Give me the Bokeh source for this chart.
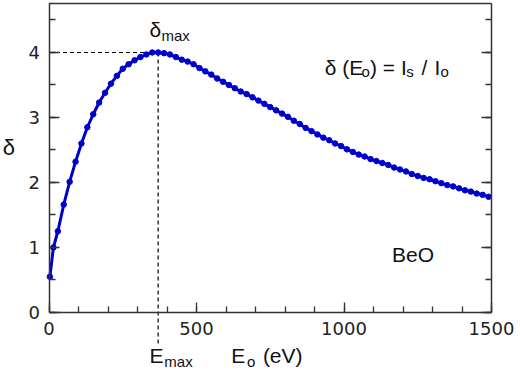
from bokeh.plotting import figure
from bokeh.models import Range1d, LinearAxis, Label, FixedTicker
from bokeh.embed import file_html
from bokeh.resources import INLINE

# ---- data ----
energy_eV = [3, 15, 30, 50, 70, 90, 110, 130, 150, 170, 190, 210, 230, 250, 270,
             290, 310, 330, 350, 370, 390, 410, 430, 450, 470, 490, 510, 530, 550,
             570, 590, 610, 630, 650, 670, 690, 710, 730, 750, 770, 790, 810, 830,
             850, 870, 890, 910, 930, 950, 970, 990, 1010, 1030, 1050, 1070, 1090,
             1110, 1130, 1150, 1170, 1190, 1210, 1230, 1250, 1270, 1290, 1310, 1330,
             1350, 1370, 1390, 1410, 1430, 1450, 1470, 1490]
delta = [0.55, 1.00, 1.25, 1.66, 2.01, 2.32, 2.60, 2.85, 3.05, 3.23, 3.38, 3.52,
         3.64, 3.75, 3.82, 3.88, 3.93, 3.97, 4.00, 4.00, 3.99, 3.97, 3.93, 3.89,
         3.86, 3.82, 3.76, 3.71, 3.66, 3.60, 3.55, 3.50, 3.45, 3.40, 3.36, 3.31,
         3.26, 3.21, 3.16, 3.11, 3.06, 3.01, 2.95, 2.90, 2.84, 2.79, 2.74, 2.69,
         2.65, 2.60, 2.56, 2.51, 2.47, 2.43, 2.40, 2.36, 2.33, 2.30, 2.27, 2.23,
         2.20, 2.17, 2.13, 2.10, 2.07, 2.05, 2.02, 1.99, 1.96, 1.94, 1.91, 1.88,
         1.86, 1.83, 1.81, 1.78]
E_max = 370
delta_max = 4.0
x_ticks = [0, 500, 1000, 1500]
y_ticks = [0, 1, 2, 3, 4]
X_MIN, X_MAX = 0, 1500
Y_MIN, Y_MAX = 0, 4.754

BLUE = "#0000cc"
AX = "#333333"
FONT = "Liberation Sans"
TICKFONT = "DejaVu Sans"
PX_PER_Y = 65.0

# the frame covers the whole canvas; axes are pinned at the data edges
p = figure(width=520, height=371, output_backend="svg", toolbar_location=None,
           x_range=Range1d(-164.41, 1598.3), y_range=Range1d(-0.9077, 4.8),
           x_axis_type=None, y_axis_type=None, min_border=0)
p.background_fill_color = "white"
p.border_fill_color = "white"
p.outline_line_color = None
p.xgrid.visible = False
p.ygrid.visible = False

def style_axis(ax, labels=True):
    ax.axis_line_color = AX
    ax.axis_line_width = 1.5
    ax.major_tick_line_color = AX
    ax.minor_tick_line_color = AX
    ax.major_tick_line_width = 1.3
    ax.minor_tick_line_width = 1.3
    ax.major_tick_in = 10
    ax.major_tick_out = 0
    ax.minor_tick_in = 6
    ax.minor_tick_out = 0
    ax.major_label_text_font = TICKFONT
    ax.major_label_text_font_size = "18px"
    ax.major_label_text_color = "#222222"
    if not labels:
        ax.major_label_text_font_size = "0px"
        ax.major_label_text_color = None

xt = FixedTicker(ticks=x_ticks, minor_ticks=list(range(0, 1501, 100)))
yt = FixedTicker(ticks=y_ticks, minor_ticks=[i * 0.5 for i in range(0, 10)])

xb = LinearAxis(ticker=xt, fixed_location=Y_MIN, bounds=(X_MIN, X_MAX))
style_axis(xb)
xb.major_label_standoff = 10
p.add_layout(xb, "below")

yl = LinearAxis(ticker=yt, fixed_location=X_MIN, bounds=(Y_MIN, Y_MAX))
style_axis(yl)
yl.major_label_standoff = 9
p.add_layout(yl, "left")

yr = LinearAxis(ticker=yt, fixed_location=X_MAX, bounds=(Y_MIN, Y_MAX))
style_axis(yr, labels=False)
p.add_layout(yr, "right")

# top edge of the plot box
p.line([X_MIN, X_MAX], [Y_MAX, Y_MAX], line_color=AX, line_width=1.5)

# dashed guide lines
p.line([X_MIN, E_max], [delta_max, delta_max], line_color="black",
       line_width=1.2, line_dash="4 3")
p.line([E_max, E_max], [delta_max, -0.48], line_color="black",
       line_width=1.2, line_dash="4 3")

# curve
p.line(energy_eV, delta, line_color=BLUE, line_width=3)
p.scatter(energy_eV, delta, size=5.5, fill_color=BLUE, line_color=BLUE)

def lab(x, y, text, size, align="left"):
    # raise so that the glyph baseline lands on y
    y_adj = y + 0.42 * size / PX_PER_Y
    p.add_layout(Label(x=x, y=y_adj, text=text, text_font=FONT,
                       text_font_size=f"{size}px", text_color="#111111",
                       text_align=align, text_baseline="alphabetic"))

# y-axis label
lab(-136, 2.392, "δ", 22, "center")
# delta max
lab(341, 4.211, "δ", 21)
lab(381, 4.158, "max", 15)
# formula
lab(935, 3.631, "δ (E", 21)
lab(1059, 3.605, "o", 15)
lab(1088, 3.631, ") = I", 21)
lab(1211, 3.605, "s", 15)
lab(1263, 3.631, "/", 21)
lab(1307, 3.631, "I", 21)
lab(1327, 3.605, "o", 15)
# material
lab(1163, 0.749, "BeO", 21)
# x labels
lab(341, -0.80, "E", 21)
lab(391, -0.854, "max", 15)
lab(618, -0.80, "E", 21)
lab(671, -0.854, "o", 15)
lab(725, -0.80, "(eV)", 21)

open("out.html", "w").write(file_html(p, INLINE))
